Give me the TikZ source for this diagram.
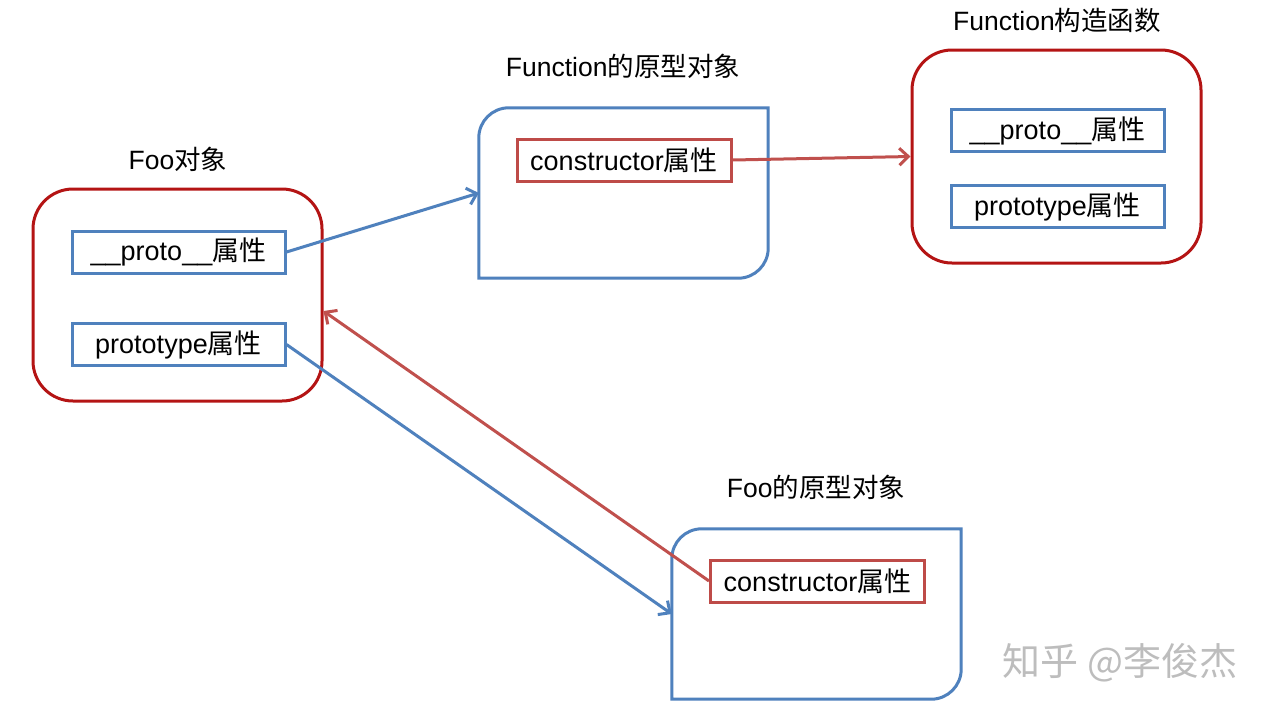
\documentclass[tikz,border=0pt]{standalone}
\usepackage{fontspec}
\setmainfont{Liberation Sans}
\newfontfamily\cjk{Noto Sans CJK SC}
\usetikzlibrary{arrows.meta}
\definecolor{boxblue}{HTML}{4F81BD}
\definecolor{darkred}{HTML}{B41414}
\definecolor{softred}{HTML}{BE4B48}
\definecolor{arrred}{HTML}{C0504D}
\definecolor{wmgray}{HTML}{BDBDBD}
\newcommand{\zh}[1]{{\cjk #1}}
\tikzset{
  redround/.style={draw=darkred, line width=3pt, rounded corners=40pt, minimum width=289pt, minimum height=212pt, inner sep=0pt},
  bluearea/.style={draw=none, minimum width=289pt, minimum height=170pt, inner sep=0pt},
  blueline/.style={draw=boxblue, line width=3pt},
  attrblue/.style={draw=boxblue, line width=3pt, minimum width=213pt, minimum height=42pt, inner sep=0pt, font=\fontsize{27}{32}\selectfont},
  attrred/.style={draw=softred, line width=3pt, minimum width=214pt, minimum height=42pt, inner sep=0pt, font=\fontsize{27}{32}\selectfont},
  title/.style={font=\fontsize{26.5}{31}\selectfont, inner sep=0pt},
  barrow/.style={draw=boxblue, line width=3pt, -{Straight Barb[length=9pt,width=17pt]}},
  rarrow/.style={draw=arrred, line width=3pt, -{Straight Barb[length=9pt,width=17pt]}},
}
\begin{document}
\begin{tikzpicture}[x=1pt,y=-1pt]
\useasboundingbox (0,0) rectangle (1270,716);
\fill[white] (0,0) rectangle (1270,716);

% containers
\node[redround] (fooobj) at (177.5,295) {};
\node[redround, minimum height=213pt] (fnctor) at (1056.5,156.5) {};
\node[bluearea] (fnproto) at (623.5,193) {};
\node[bluearea] (fooproto) at (816.5,614) {};

\foreach \b in {fnproto,fooproto}{
  \draw[blueline] (\b.south west) -- ([yshift=-30pt]\b.north west)
    arc[start angle=180, end angle=90, radius=30pt]
    -- (\b.north east) -- ([yshift=30pt]\b.south east)
    arc[start angle=0, end angle=-90, radius=30pt] -- cycle;
}

% titles
\node[title] (tfoo) at (178,159) {Foo\zh{对象}};
\node[title] (tfnproto) at (623,66) {Function\zh{的原型对象}};
\node[title] (tfnctor) at (1057,20) {Function\zh{构造函数}};
\node[title] (tfooproto) at (816,487) {Foo\zh{的原型对象}};

% attribute boxes
\node[attrblue] (fooP) at (178.5,252) {\_\_proto\_\_\zh{属性}};
\node[attrblue] (fooPt) at (178.5,344.5) {prototype\zh{属性}};
\node[attrblue] (fnP) at (1057.5,130.5) {\_\_proto\_\_\zh{属性}};
\node[attrblue] (fnPt) at (1057.5,206.5) {prototype\zh{属性}};
\node[attrred] (fnC) at (624,160) {constructor\zh{属性}};
\node[attrred] (fooC) at (817.5,581) {constructor\zh{属性}};

% connectors
\coordinate (fooIn) at ([yshift=-16pt]fooobj.east);
\draw[barrow] (fooP.east) -- (fnproto.west);
\draw[rarrow] (fnC.east) -- (fnctor.west);
\draw[barrow] (fooPt.east) -- (fooproto.west);
\draw[rarrow] (fooC.west) -- (fooIn);

% watermark
\node[font=\fontsize{38}{42}\selectfont, text=wmgray, inner sep=0pt] (wm) at (1120,663) {\zh{知乎 @李俊杰}};
\end{tikzpicture}
\end{document}
